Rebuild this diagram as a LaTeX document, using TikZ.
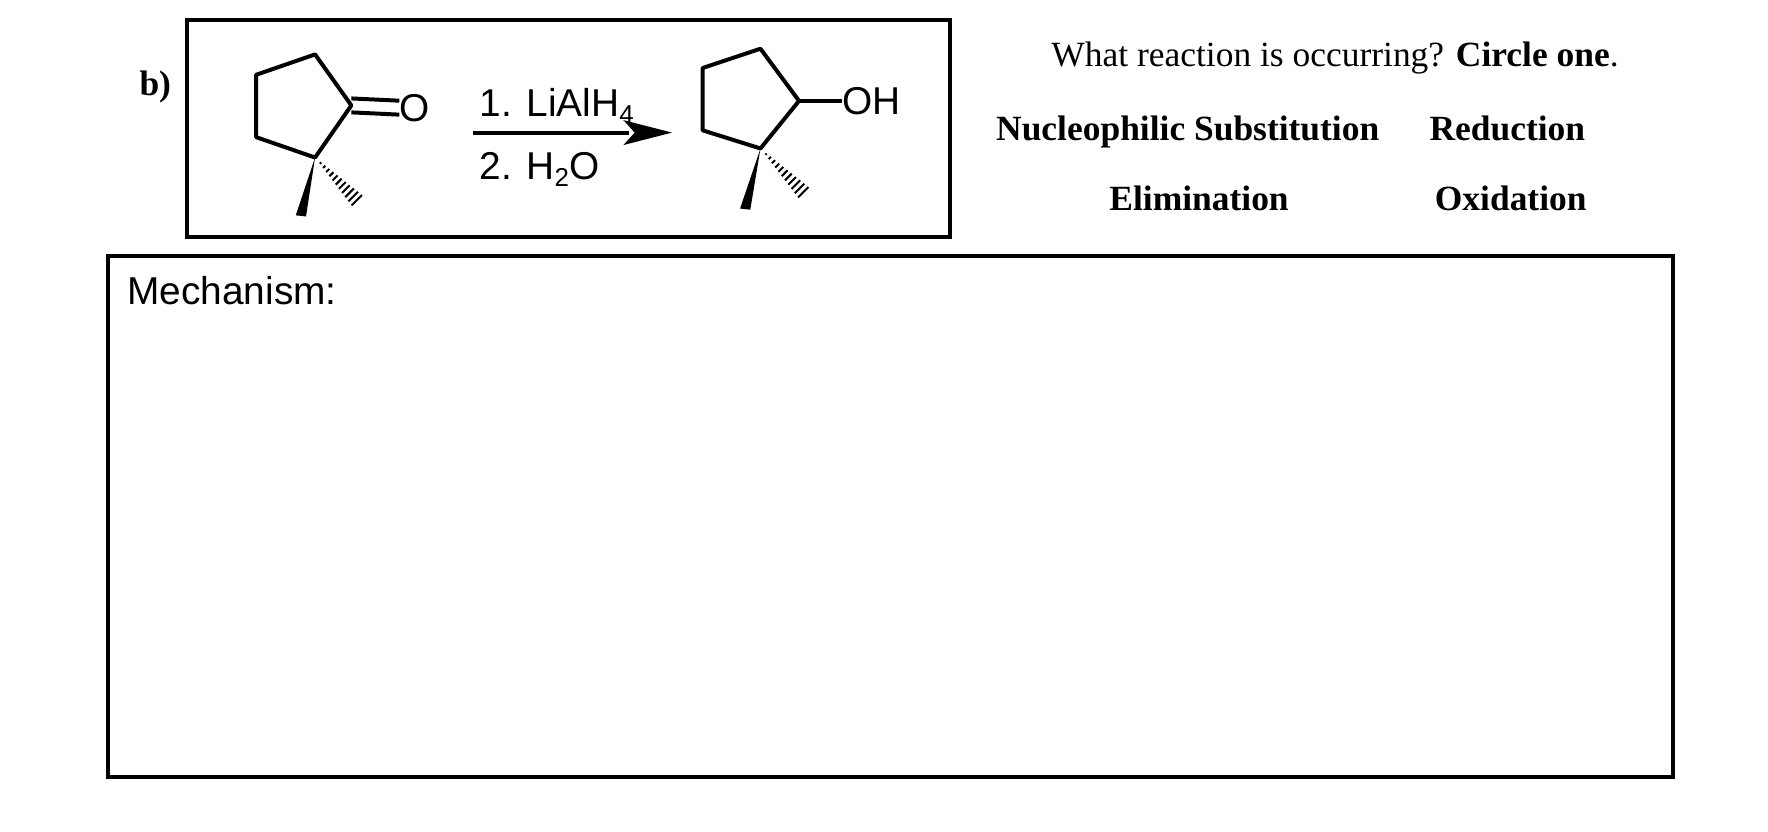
\documentclass[tikz,border=0pt]{standalone}
\usepackage{fontspec}
\usetikzlibrary{calc}
\setmainfont{Liberation Serif}
\newfontfamily\arial{Liberation Sans}
\newcommand{\lsub}[1]{\raisebox{-0.35ex}{\fontsize{13}{14}\selectfont #1}}
\begin{document}
\begin{tikzpicture}[x=0.02cm,y=-0.02cm,
  bond/.style={line width=2pt,line join=round},
  frame/.style={line width=2pt},
  chem/.style={font=\arial\fontsize{19.5}{22}\selectfont,inner sep=0pt},
  q/.style={font=\fontsize{17.8}{21}\selectfont,inner sep=0pt,anchor=base},
  qb/.style={font=\bfseries\fontsize{17.8}{21}\selectfont,inner sep=0pt,anchor=base}]
\useasboundingbox (0,0) rectangle (1560,734);
\draw[frame] (165,18) rectangle (838,209);
\draw[frame] (95,226) rectangle (1476,686);
\node[qb] (b) at (137,84) {b)};
% left molecule
\coordinate (a1) at (278,48); \coordinate (a2) at (226,66);
\coordinate (a3) at (226,121); \coordinate (a4) at (278,139);
\coordinate (a5) at (310,93);
\draw[bond] (a5)--(a1)--(a2)--(a3)--(a4)--cycle;
\node[chem] (o1) at (366,95) {O};
\draw[bond] ([yshift=-3.5]a5) -- ([yshift=-3.5]o1.west);
\draw[bond] ([yshift=3.5]a5) -- ([yshift=3.5]o1.west);
\fill (a4) -- (261,190) -- (270,191) -- cycle;
\foreach \t in {0.12,0.2,...,1.0}
  \draw[line width=1pt] ($(a4)!\t!(318,180)+(-\t*5,\t*5)$) -- ($(a4)!\t!(318,180)+(\t*5,-\t*5)$);
% arrow
\coordinate (s) at (417,117); \coordinate (e) at (593,117);
\draw[bond] (s) -- (555,117);
\fill (e) -- (550,106) -- (560,117) -- (550,128) -- cycle;
\node[chem,anchor=base west] (r1) at (423,103) {1. LiAlH\lsub{4}};
\node[chem,anchor=base west] (r2) at (423,158) {2. H\lsub{2}O};
% right molecule
\coordinate (b1) at (671,43); \coordinate (b2) at (620,60);
\coordinate (b3) at (620,115); \coordinate (b4) at (671,131);
\coordinate (b5) at (705,89);
\draw[bond] (b5)--(b1)--(b2)--(b3)--(b4)--cycle;
\node[chem,anchor=west] (oh) at (743,89) {OH};
\draw[bond] (b5) -- (oh.west);
\fill (b4) -- (653,184) -- (662,185) -- cycle;
\foreach \t in {0.12,0.2,...,1.0}
  \draw[line width=1pt] ($(b4)!\t!(712,173)+(-\t*5,\t*5)$) -- ($(b4)!\t!(712,173)+(\t*5,-\t*5)$);
% question
\node[q] (qq) at (1178,59) {What reaction is occurring? \textbf{Circle one}.};
\node[qb] (ns) at (1048,124) {Nucleophilic Substitution};
\node[qb] (rd) at (1330,124) {Reduction};
\node[qb] (el) at (1058,186) {Elimination};
\node[qb] (ox) at (1333,186) {Oxidation};
\node[chem,anchor=west] (mech) at (112,256) {Mechanism:};
\end{tikzpicture}
\end{document}
